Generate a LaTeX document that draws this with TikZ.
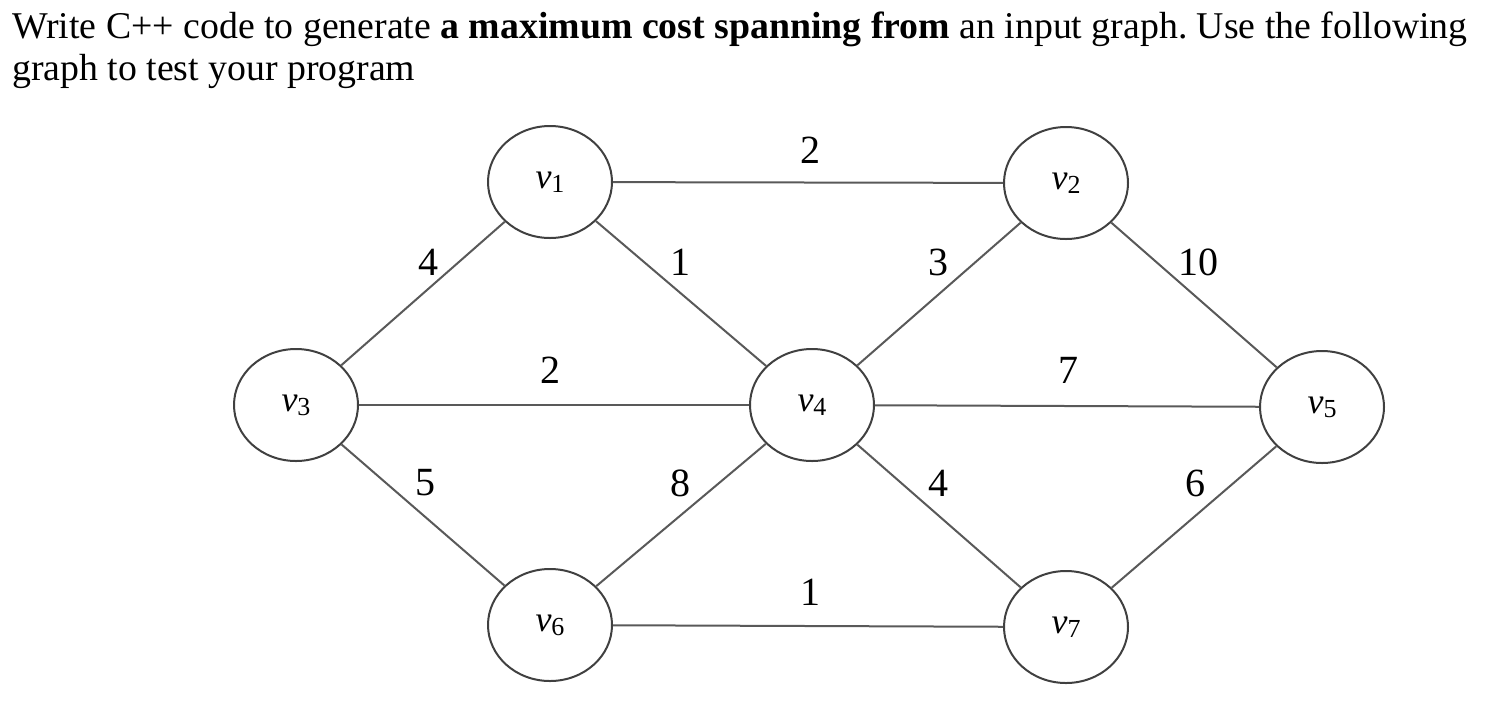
\documentclass[tikz,border=0pt]{standalone}
\usepackage{fontspec}
\setmainfont{Liberation Serif}
\usetikzlibrary{shapes.geometric}
\newcommand{\vlab}[1]{\textit{v}\raisebox{-0.25ex}{\fontsize{26}{30}\selectfont #1}}
\begin{document}
\frenchspacing
\begin{tikzpicture}[x=1pt,y=-1pt,
  vert/.style={draw=black!75,line width=2pt,ellipse,minimum width=124pt,minimum height=112pt,inner sep=0pt,font=\fontsize{36}{40}\selectfont},
  edge/.style={draw=black!65,line width=2pt},
  wt/.style={font=\fontsize{40}{44}\selectfont,inner sep=0pt}]
\useasboundingbox (0,0) rectangle (1496,724);
\node[anchor=base west,inner sep=0pt,font=\fontsize{37.8}{44}\selectfont] (t1) at (12,38) {Write C++ code to generate \textbf{a maximum cost spanning from} an input graph. Use the following};
\node[anchor=base west,inner sep=0pt,font=\fontsize{37.8}{44}\selectfont] (t2) at (12,80) {graph to test your program};
\node[vert] (v1) at (550,182) {\vlab{1}};
\node[vert] (v2) at (1066,183) {\vlab{2}};
\node[vert] (v3) at (296,405) {\vlab{3}};
\node[vert] (v4) at (812,405) {\vlab{4}};
\node[vert] (v5) at (1322,407) {\vlab{5}};
\node[vert] (v6) at (550,625) {\vlab{6}};
\node[vert] (v7) at (1066,627) {\vlab{7}};
\draw[edge] (v1) -- (v2);
\draw[edge] (v1) -- (v3);
\draw[edge] (v1) -- (v4);
\draw[edge] (v2) -- (v4);
\draw[edge] (v2) -- (v5);
\draw[edge] (v3) -- (v4);
\draw[edge] (v4) -- (v5);
\draw[edge] (v3) -- (v6);
\draw[edge] (v4) -- (v6);
\draw[edge] (v4) -- (v7);
\draw[edge] (v5) -- (v7);
\draw[edge] (v6) -- (v7);
\node[wt] (w1) at (810,150) {2};
\node[wt] (w2) at (428,262) {4};
\node[wt] (w3) at (680,262) {1};
\node[wt] (w4) at (938,262) {3};
\node[wt] (w5) at (1198,262) {10};
\node[wt] (w6) at (550,370) {2};
\node[wt] (w7) at (1068,370) {7};
\node[wt] (w8) at (425,483) {5};
\node[wt] (w9) at (680,483) {8};
\node[wt] (w10) at (938,483) {4};
\node[wt] (w11) at (1195,483) {6};
\node[wt] (w12) at (810,592) {1};
\end{tikzpicture}
\end{document}
